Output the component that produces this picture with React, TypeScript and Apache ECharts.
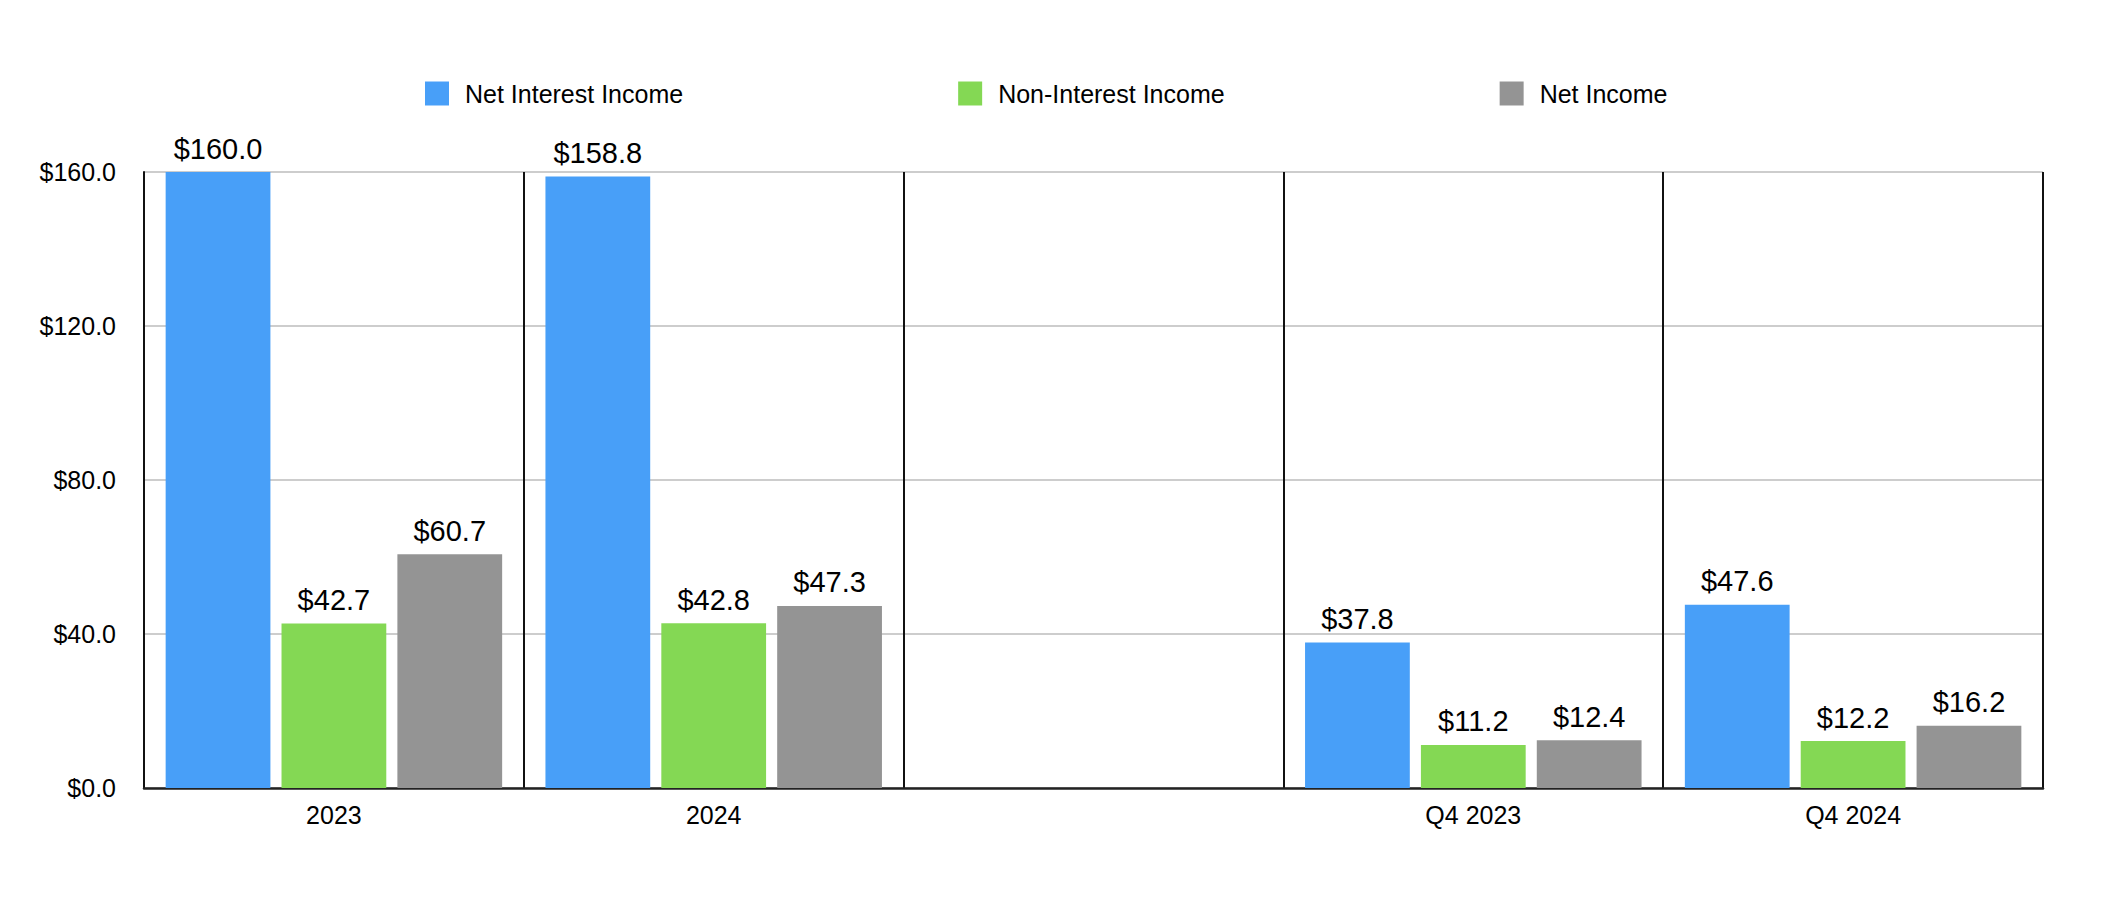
import { useEffect, useRef } from "react";
import * as echarts from "echarts";

// values in $ millions
const categories = ["2023", "2024", "", "Q4 2023", "Q4 2024"];
const netInterestIncome = [160.0, 158.8, null, 37.8, 47.6];
const nonInterestIncome = [42.7, 42.8, null, 11.2, 12.2];
const netIncome = [60.7, 47.3, null, 12.4, 16.2];
const seriesNames = ["Net Interest Income", "Non-Interest Income", "Net Income"];
const colors = ["#489ff8", "#84d854", "#949494"];

const FONT = "'Liberation Sans', Arial, Helvetica, sans-serif";

const money = (v: number) => `$${v.toFixed(1)}`;

const App = () => {
  const chartRef = useRef<HTMLDivElement>(null);

  useEffect(() => {
    if (!chartRef.current) return;
    const chart = echarts.init(chartRef.current, null, { renderer: "svg" });

    const values = [netInterestIncome, nonInterestIncome, netIncome];

    chart.setOption({
      animation: false,
      color: colors,
      textStyle: { fontFamily: FONT },
      legend: {
        left: 425,
        top: 81,
        padding: 0,
        itemWidth: 24,
        itemHeight: 24,
        itemGap: 275,
        icon: "rect",
        data: seriesNames,
        textStyle: {
          fontSize: 25,
          color: "#000",
          fontFamily: FONT,
          padding: [0, 0, 0, 11],
        },
      },
      grid: { left: 144, right: 81, top: 172, bottom: 118, containLabel: false },
      xAxis: {
        type: "category",
        data: categories,
        axisLine: { show: true, lineStyle: { color: "#222", width: 2.5 } },
        axisTick: { show: false },
        axisLabel: { fontSize: 25, color: "#000", margin: 14, fontFamily: FONT },
        splitLine: { show: true, lineStyle: { color: "#111", width: 2 } },
      },
      yAxis: {
        type: "value",
        min: 0,
        max: 160,
        interval: 40,
        axisLine: { show: true, lineStyle: { color: "#111", width: 2 } },
        axisTick: { show: false },
        axisLabel: {
          fontSize: 25,
          color: "#000",
          margin: 28,
          fontFamily: FONT,
          formatter: (v: number) => money(v),
        },
        splitLine: { lineStyle: { color: "#bdbdbd", width: 1.5 } },
      },
      series: seriesNames.map((name, i) => ({
        name,
        type: "bar",
        data: values[i],
        barGap: "10.6%",
        barCategoryGap: "11.4%",
        label: {
          show: true,
          position: "top",
          distance: 9,
          fontSize: 29,
          color: "#000",
          fontFamily: FONT,
          formatter: (p: any) => money(p.value),
        },
      })),
    });

    return () => chart.dispose();
  }, []);

  return (
    <div
      ref={chartRef}
      style={{ position: "fixed", left: 0, top: 0, width: "2124px", height: "906px", background: "#fff" }}
    />
  );
};

export default App;
